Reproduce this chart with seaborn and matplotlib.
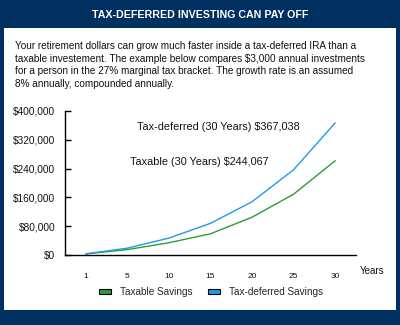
import matplotlib
matplotlib.use("Agg")
import matplotlib.pyplot as plt
from matplotlib.patches import Rectangle, Patch
import numpy as np
import pandas as pd
import seaborn as sns

years = ["1", "5", "10", "15", "20", "25", "30"]
taxable = [3000, 15000, 34000, 59000, 105000, 169000, 262000]
tax_deferred = [3240, 19000, 47000, 88000, 148000, 237000, 367038]
series_names = ["Taxable Savings", "Tax-deferred Savings"]
y_ticks = [0, 80000, 160000, 240000, 320000, 400000]
y_tick_labels = ["$0", "$80,000", "$160,000", "$240,000", "$320,000", "$400,000"]
title = "TAX-DEFERRED INVESTING CAN PAY OFF"
body = ("Your retirement dollars can grow much faster inside a tax-deferred IRA than a\n"
        "taxable investement. The example below compares $3,000 annual investments\n"
        "for a person in the 27% marginal tax bracket. The growth rate is an assumed\n"
        "8% annually, compounded annually.")
label_deferred = "Tax-deferred (30 Years) $367,038"
label_taxable = "Taxable (30 Years) $244,067"

NAVY = "#00305f"
GREEN = "#2e9a3c"
BLUE = "#1f9be3"
SANS = ["Liberation Sans", "DejaVu Sans"]

sns.set_theme(style="white")
plt.rcParams["font.family"] = SANS

pos = np.arange(len(years))
df = pd.DataFrame({
    "pos": np.concatenate([pos, pos]),
    "value": taxable + tax_deferred,
    "series": [series_names[0]] * len(years) + [series_names[1]] * len(years),
})

fig = plt.figure(figsize=(4.0, 3.25), dpi=100)
fig.patch.set_facecolor(NAVY)
fig.add_artist(Rectangle((4 / 400, 1 - 310 / 325), 392 / 400, (310 - 28) / 325,
                         transform=fig.transFigure, facecolor="white", edgecolor="none", zorder=0))
fig.text(0.5, 1 - 15 / 325, title, color="white", fontsize=7.7, fontweight="bold",
         family=SANS, ha="center", va="center")
fig.text(15 / 400, 1 - 41 / 325, body, color="#111111", fontsize=7.2, family=SANS,
         ha="left", va="top", linespacing=1.32)

ax = fig.add_axes([65 / 400, 1 - 255 / 325, 291 / 400, 144 / 325])
ax.set_facecolor("none")
sns.lineplot(data=df, x="pos", y="value", hue="series", palette=[GREEN, BLUE],
             linewidth=1.0, ax=ax, legend=False)

ax.set_xlim(-0.5, len(years) - 0.5)
ax.set_ylim(0, 400000)
ax.set_yticks(y_ticks)
ax.set_yticklabels(y_tick_labels, family=SANS, fontsize=7.3, color="#111111")
ax.set_xticks(pos)
ax.set_xticklabels(years, family=SANS, fontsize=6, color="#111111")
ax.set_xticks(np.arange(len(years) + 1) - 0.5, minor=True)
ax.tick_params(axis="x", which="major", length=0, pad=13)
ax.tick_params(axis="x", which="minor", direction="in", length=4, width=1, color="black")
ax.tick_params(axis="y", direction="in", length=4, width=1, color="black", pad=7, left=True)
for s in ["top", "right"]:
    ax.spines[s].set_visible(False)
for s in ["left", "bottom"]:
    ax.spines[s].set_color("black")
    ax.spines[s].set_linewidth(1)
ax.set_xlabel("")
ax.set_ylabel("")
ax.grid(False)

ax.text(1.23, 355000, label_deferred, family=SANS, fontsize=7.8, color="#111111",
        ha="left", va="center")
ax.text(1.06, 258000, label_taxable, family=SANS, fontsize=7.8, color="#111111",
        ha="left", va="center")
fig.text(360 / 400, 1 - 271 / 325, "Years", family=SANS, fontsize=7, color="#111111",
         ha="left", va="center")

handles = [Patch(facecolor=GREEN, edgecolor="black", linewidth=0.8),
           Patch(facecolor=BLUE, edgecolor="black", linewidth=0.8)]
fig.legend(handles, series_names, loc="center", bbox_to_anchor=(211 / 400, 1 - 292 / 325),
           ncol=2, frameon=False, prop={"family": SANS, "size": 7.2},
           handlelength=1.2, handleheight=0.5, handletextpad=0.9, columnspacing=1.6)

fig.savefig("out.png", dpi=100, facecolor=NAVY)
